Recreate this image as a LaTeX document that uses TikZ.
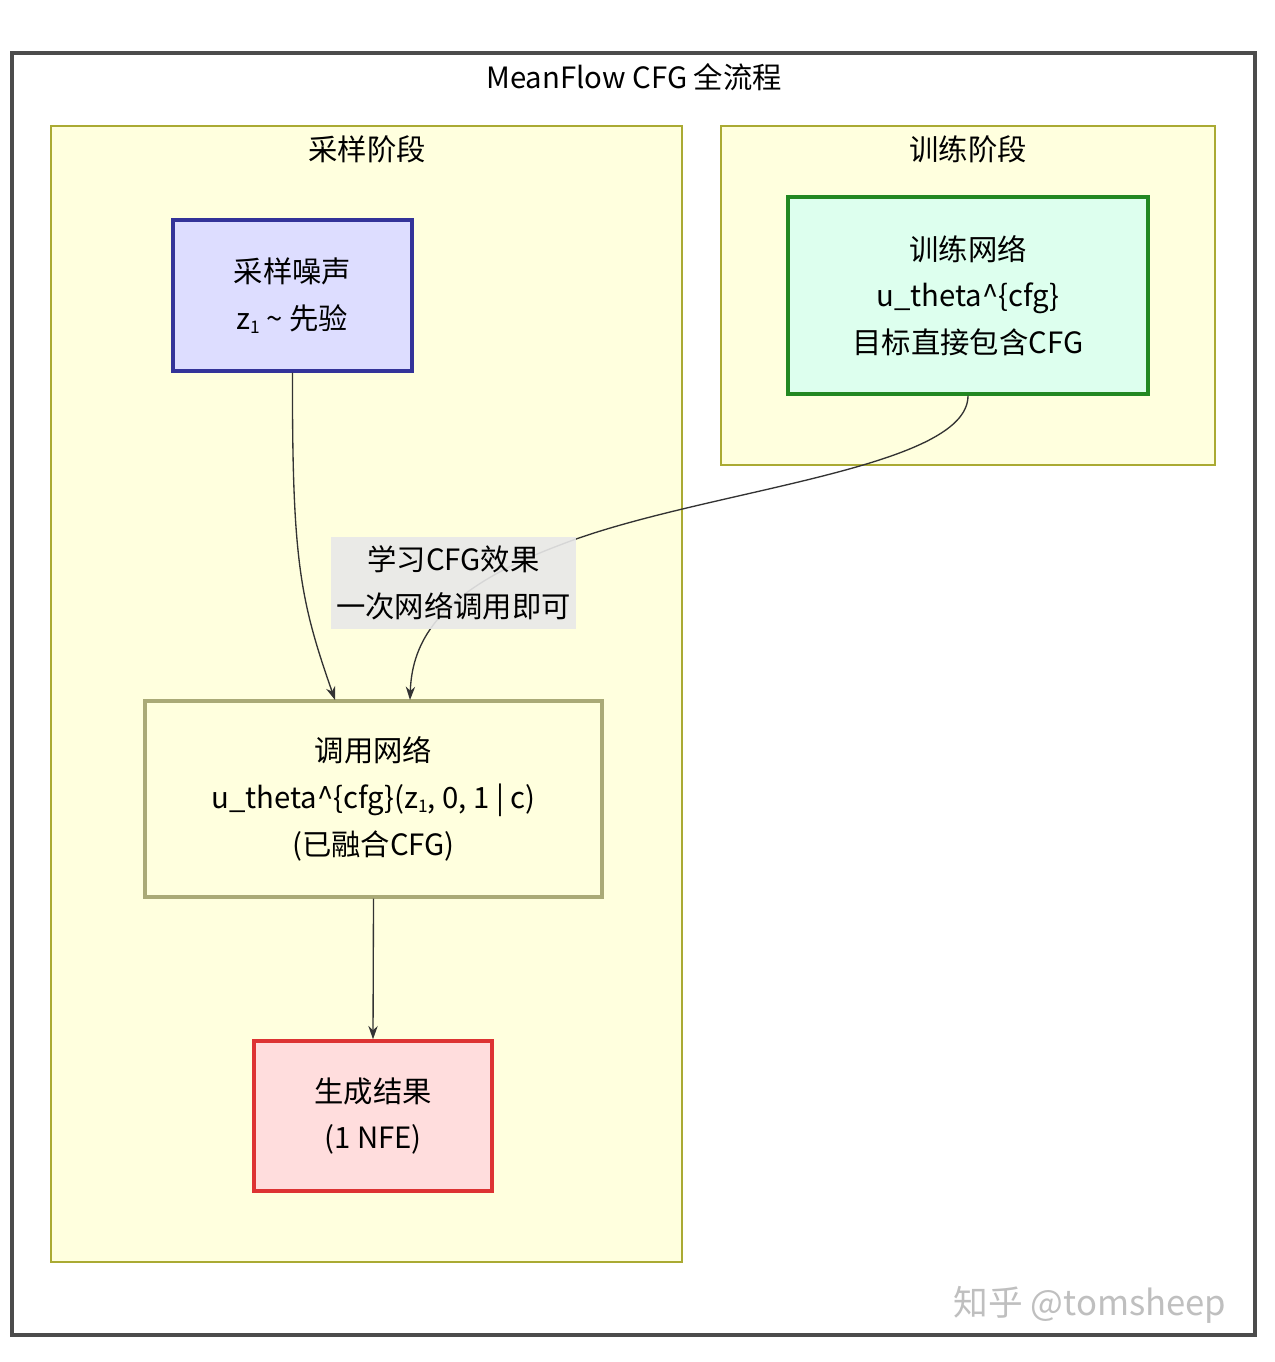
\documentclass[tikz,border=0pt]{standalone}
\usepackage{fontspec}
\setmainfont{Noto Sans CJK SC}
\usetikzlibrary{arrows.meta}
\definecolor{clfill}{HTML}{FFFFDE}
\definecolor{clline}{HTML}{AAAA33}
\tikzset{
  px/.style={x=0.75pt,y=-0.75pt},
  cluster/.style={draw=clline,fill=clfill,line width=1pt},
  box/.style={draw,line width=2.6pt,align=center,font=\fontsize{22}{35}\selectfont,inner sep=0pt},
  txt/.style={font=\fontsize{22}{35}\selectfont,align=center},
  edge/.style={draw=black!80,line width=1pt,-{Stealth[length=10pt,width=7pt]}},
}
\newcommand{\zsub}{z\raisebox{-0.25ex}{\fontsize{13}{13}\selectfont 1}}
\begin{document}
\begin{tikzpicture}[px]
\useasboundingbox (0,0) rectangle (1274,1362);
\fill[white] (0,0) rectangle (1274,1362);
\draw[line width=3pt,draw=black!70] (12,53) rectangle (1255,1335);
\node[txt] (title) at (634,77) {MeanFlow CFG 全流程};
\draw[cluster] (51,126) rectangle (682,1262);
\node[txt] (sl) at (367,149) {采样阶段};
\draw[cluster] (721,126) rectangle (1215,465);
\node[txt] (tl) at (968,149) {训练阶段};
\node[box,draw={rgb,255:red,51;green,51;blue,153},fill={rgb,255:red,221;green,221;blue,255},minimum width=239*0.75pt,minimum height=151*0.75pt] (A) at (292.5,295.5) {采样噪声\\\zsub\ \textasciitilde\ 先验};
\node[box,draw={rgb,255:red,34;green,136;blue,34},fill={rgb,255:red,221;green,255;blue,238},minimum width=360*0.75pt,minimum height=197*0.75pt] (T) at (968,295.5) {训练网络\\u\_theta\textasciicircum\{cfg\}\\目标直接包含CFG};
\node[box,draw={rgb,255:red,170;green,170;blue,119},fill=clfill,minimum width=457*0.75pt,minimum height=196*0.75pt] (C) at (373.5,799) {调用网络\\u\_theta\textasciicircum\{cfg\}(\zsub, 0, 1 | c)\\(已融合CFG)};
\node[box,draw={rgb,255:red,221;green,51;blue,51},fill={rgb,255:red,255;green,221;blue,221},minimum width=238*0.75pt,minimum height=150*0.75pt] (R) at (373,1116) {生成结果\\(1 NFE)};
\coordinate (ca) at (335,700);
\coordinate (ct) at (410,700);
\draw[edge] (A.south) .. controls (292,560) and (300,600) .. (ca);
\draw[edge] (T.south) .. controls (968,470) and (700,490) .. (560,545) .. controls (440,590) and (412,640) .. (ct);
\node[fill={rgb,255:red,232;green,232;blue,232},fill opacity=0.9,text opacity=1,txt,inner sep=0pt,minimum width=245*0.75pt,minimum height=92*0.75pt] (L) at (453.5,583) {学习CFG效果\\一次网络调用即可};
\draw[edge] (C.south) -- (R.north);
\node[txt,text=black!25,font=\fontsize{26}{30}\selectfont] (wm) at (1090,1305) {知乎 @tomsheep};
\end{tikzpicture}
\end{document}
